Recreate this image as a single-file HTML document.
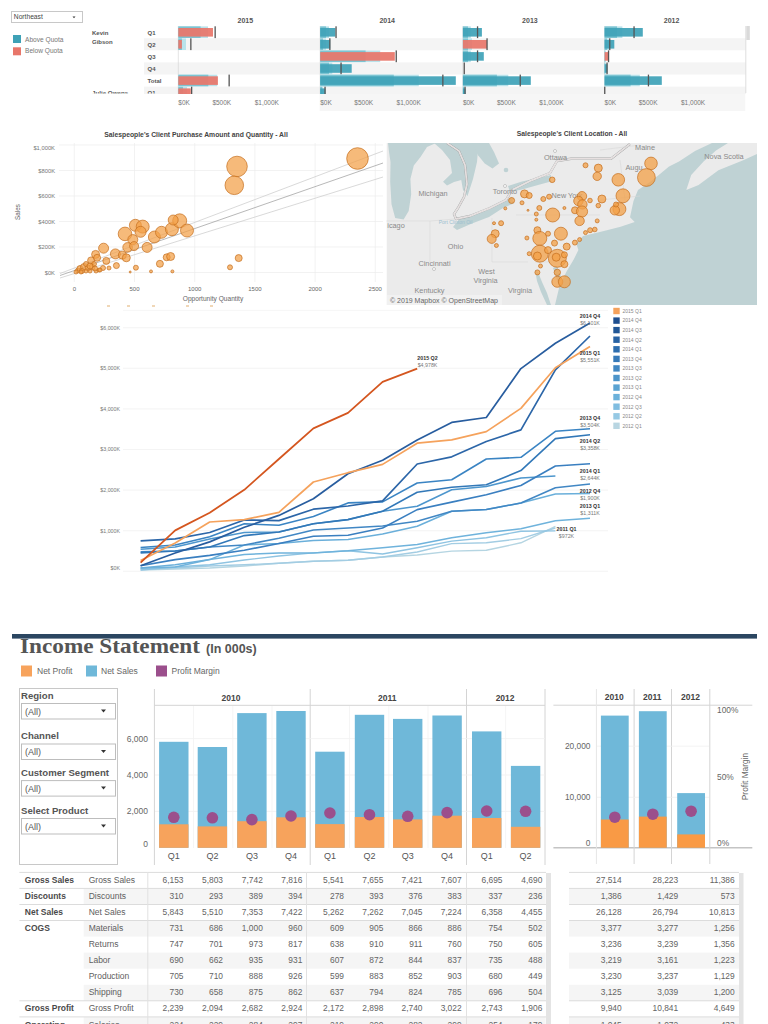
<!DOCTYPE html><html><head><meta charset="utf-8"><style>
html,body{margin:0;padding:0;background:#fff;width:768px;height:1024px;overflow:hidden;position:relative;font-family:"Liberation Sans", sans-serif;}
svg{position:absolute;left:0;top:0;overflow:visible;}
</style></head><body>
<svg width="768" height="115" viewBox="0 0 768 115"><rect x="11.5" y="11.5" width="71" height="11" fill="#fff" stroke="#c8c8c8" stroke-width="1"/><text x="13.8" y="19.4" font-size="6.7" fill="#444">Northeast</text><path d="M72.5 16.5 L75.5 16.5 L74 18.2 Z" fill="#333"/><rect x="13" y="35" width="8" height="8" fill="#3ea1b6"/><text x="25" y="42" font-size="6.6" fill="#777">Above Quota</text><rect x="13" y="47.3" width="8" height="8" fill="#e8766a"/><text x="25" y="53" font-size="6.6" fill="#777">Below Quota</text><rect x="144" y="38.2" width="602" height="12.1" fill="#f4f4f4"/><rect x="144" y="62.4" width="602" height="12.1" fill="#f4f4f4"/><rect x="144" y="86.6" width="602" height="7.4" fill="#f4f4f4"/><text x="92" y="34.8" font-size="6" font-weight="bold" fill="#555">Kevin</text><text x="92" y="44.2" font-size="6" font-weight="bold" fill="#555">Gibson</text><defs><clipPath id="rc2"><rect x="0" y="0" width="768" height="93.6"/></clipPath></defs><text x="92" y="95.2" font-size="6.2" font-weight="bold" fill="#555" clip-path="url(#rc2)">Julie Owens</text><text x="147.5" y="34.7" font-size="6" font-weight="bold" fill="#555" clip-path="url(#rc2)">Q1</text><text x="147.5" y="46.7" font-size="6" font-weight="bold" fill="#555" clip-path="url(#rc2)">Q2</text><text x="147.5" y="58.8" font-size="6" font-weight="bold" fill="#555" clip-path="url(#rc2)">Q3</text><text x="147.5" y="70.9" font-size="6" font-weight="bold" fill="#555" clip-path="url(#rc2)">Q4</text><text x="147.5" y="83.0" font-size="6" font-weight="bold" fill="#555" clip-path="url(#rc2)">Total</text><text x="147.5" y="95.1" font-size="6" font-weight="bold" fill="#555" clip-path="url(#rc2)">Q1</text><defs><clipPath id="rc"><rect x="0" y="0" width="768" height="94"/></clipPath></defs><g clip-path="url(#rc)"><line x1="178.3" y1="26" x2="178.3" y2="94" stroke="#d0d0d0" stroke-width="0.6"/><rect x="178.3" y="26.4" width="29.7" height="11.6" fill="#b9e2ea"/><rect x="178.3" y="26.4" width="22.3" height="11.6" fill="#7cc4d2"/><rect x="178.3" y="28.0" width="34.7" height="8.6" fill="#e8766a" fill-opacity="0.93"/><rect x="214.5" y="26.3" width="1.3" height="11.8" fill="#555"/><rect x="178.3" y="38.4" width="7.7" height="11.6" fill="#b9e2ea"/><rect x="178.3" y="38.4" width="3.6" height="11.6" fill="#7cc4d2"/><rect x="178.3" y="40.0" width="3.6" height="8.6" fill="#e8766a" fill-opacity="0.93"/><rect x="190.2" y="38.3" width="1.3" height="11.8" fill="#555"/><rect x="178.3" y="74.7" width="39.0" height="11.6" fill="#b9e2ea"/><rect x="178.3" y="74.7" width="30.0" height="11.6" fill="#7cc4d2"/><rect x="178.3" y="76.3" width="39.6" height="8.6" fill="#e8766a" fill-opacity="0.93"/><rect x="228.5" y="74.6" width="1.3" height="11.8" fill="#555"/><rect x="178.3" y="86.8" width="8.7" height="11.6" fill="#b9e2ea"/><rect x="178.3" y="86.8" width="4.7" height="11.6" fill="#7cc4d2"/><rect x="178.3" y="88.4" width="12.5" height="8.6" fill="#e8766a" fill-opacity="0.93"/><rect x="191.0" y="86.7" width="1.3" height="11.8" fill="#555"/><line x1="320.2" y1="26" x2="320.2" y2="94" stroke="#d0d0d0" stroke-width="0.6"/><rect x="320.2" y="26.4" width="8.8" height="11.6" fill="#b9e2ea"/><rect x="320.2" y="26.4" width="5.8" height="11.6" fill="#7cc4d2"/><rect x="320.2" y="28.0" width="15.2" height="8.6" fill="#3fa3b8" fill-opacity="0.93"/><rect x="335.4" y="26.3" width="1.3" height="11.8" fill="#555"/><rect x="320.2" y="38.4" width="5.8" height="11.6" fill="#b9e2ea"/><rect x="320.2" y="38.4" width="2.8" height="11.6" fill="#7cc4d2"/><rect x="320.2" y="40.0" width="10.0" height="8.6" fill="#3fa3b8" fill-opacity="0.93"/><rect x="329.2" y="38.3" width="1.3" height="11.8" fill="#555"/><rect x="320.2" y="50.5" width="60.0" height="11.6" fill="#b9e2ea"/><rect x="320.2" y="50.5" width="45.4" height="11.6" fill="#7cc4d2"/><rect x="320.2" y="52.1" width="74.6" height="8.6" fill="#e8766a" fill-opacity="0.93"/><rect x="395.6" y="50.4" width="1.3" height="11.8" fill="#555"/><rect x="320.2" y="62.6" width="12.1" height="11.6" fill="#b9e2ea"/><rect x="320.2" y="62.6" width="8.8" height="11.6" fill="#7cc4d2"/><rect x="320.2" y="64.2" width="31.5" height="8.6" fill="#3fa3b8" fill-opacity="0.93"/><rect x="340.4" y="62.5" width="1.3" height="11.8" fill="#555"/><rect x="320.2" y="74.7" width="98.6" height="11.6" fill="#b9e2ea"/><rect x="320.2" y="74.7" width="73.6" height="11.6" fill="#7cc4d2"/><rect x="320.2" y="76.3" width="135.6" height="8.6" fill="#3fa3b8" fill-opacity="0.93"/><rect x="442.2" y="74.6" width="1.3" height="11.8" fill="#555"/><rect x="320.2" y="86.8" width="2.8" height="11.6" fill="#b9e2ea"/><rect x="320.2" y="86.8" width="1.8" height="11.6" fill="#7cc4d2"/><rect x="320.2" y="88.4" width="5.2" height="8.6" fill="#3fa3b8" fill-opacity="0.93"/><rect x="324.4" y="86.7" width="1.3" height="11.8" fill="#555"/><line x1="462.9" y1="26" x2="462.9" y2="94" stroke="#d0d0d0" stroke-width="0.6"/><rect x="462.9" y="26.4" width="7.9" height="11.6" fill="#b9e2ea"/><rect x="462.9" y="26.4" width="5.1" height="11.6" fill="#7cc4d2"/><rect x="462.9" y="28.0" width="19.0" height="8.6" fill="#3fa3b8" fill-opacity="0.93"/><rect x="476.9" y="26.3" width="1.3" height="11.8" fill="#555"/><rect x="462.9" y="38.4" width="9.1" height="11.6" fill="#b9e2ea"/><rect x="462.9" y="38.4" width="5.1" height="11.6" fill="#7cc4d2"/><rect x="462.9" y="40.0" width="24.1" height="8.6" fill="#e8766a" fill-opacity="0.93"/><rect x="486.4" y="38.3" width="1.3" height="11.8" fill="#555"/><rect x="462.9" y="50.5" width="7.9" height="11.6" fill="#b9e2ea"/><rect x="462.9" y="50.5" width="5.1" height="11.6" fill="#7cc4d2"/><rect x="462.9" y="52.1" width="20.9" height="8.6" fill="#3fa3b8" fill-opacity="0.93"/><rect x="476.9" y="50.4" width="1.3" height="11.8" fill="#555"/><rect x="463.6" y="62.5" width="1.3" height="11.8" fill="#555"/><rect x="462.9" y="74.7" width="45.4" height="11.6" fill="#b9e2ea"/><rect x="462.9" y="74.7" width="34.0" height="11.6" fill="#7cc4d2"/><rect x="462.9" y="76.3" width="67.9" height="8.6" fill="#3fa3b8" fill-opacity="0.93"/><rect x="519.6" y="74.6" width="1.3" height="11.8" fill="#555"/><rect x="462.9" y="86.8" width="2.1" height="11.6" fill="#b9e2ea"/><rect x="462.9" y="86.8" width="1.1" height="11.6" fill="#7cc4d2"/><rect x="462.9" y="88.4" width="2.7" height="8.6" fill="#3fa3b8" fill-opacity="0.93"/><rect x="464.4" y="86.7" width="1.3" height="11.8" fill="#555"/><line x1="604.6" y1="26" x2="604.6" y2="94" stroke="#d0d0d0" stroke-width="0.6"/><rect x="604.6" y="26.4" width="17.8" height="11.6" fill="#b9e2ea"/><rect x="604.6" y="26.4" width="12.4" height="11.6" fill="#7cc4d2"/><rect x="604.6" y="28.0" width="38.2" height="8.6" fill="#3fa3b8" fill-opacity="0.93"/><rect x="633.4" y="26.3" width="1.3" height="11.8" fill="#555"/><rect x="604.6" y="38.4" width="4.4" height="11.6" fill="#b9e2ea"/><rect x="604.6" y="38.4" width="2.4" height="11.6" fill="#7cc4d2"/><rect x="604.6" y="40.0" width="9.7" height="8.6" fill="#3fa3b8" fill-opacity="0.93"/><rect x="609.1" y="38.3" width="1.3" height="11.8" fill="#555"/><rect x="604.6" y="50.5" width="1.4" height="11.6" fill="#b9e2ea"/><rect x="604.6" y="50.5" width="0.4" height="11.6" fill="#7cc4d2"/><rect x="604.6" y="52.1" width="3.4" height="8.6" fill="#e8766a" fill-opacity="0.93"/><rect x="607.9" y="50.4" width="1.3" height="11.8" fill="#555"/><rect x="604.6" y="62.6" width="1.4" height="11.6" fill="#b9e2ea"/><rect x="604.6" y="62.6" width="0.4" height="11.6" fill="#7cc4d2"/><rect x="604.6" y="64.2" width="2.8" height="8.6" fill="#3fa3b8" fill-opacity="0.93"/><rect x="606.4" y="62.5" width="1.3" height="11.8" fill="#555"/><rect x="604.6" y="74.7" width="35.2" height="11.6" fill="#b9e2ea"/><rect x="604.6" y="74.7" width="26.0" height="11.6" fill="#7cc4d2"/><rect x="604.6" y="76.3" width="57.2" height="8.6" fill="#3fa3b8" fill-opacity="0.93"/><rect x="647.8" y="74.6" width="1.3" height="11.8" fill="#555"/><rect x="604.1" y="86.7" width="1.3" height="11.8" fill="#555"/></g><rect x="319.7" y="94" width="425.5" height="17" fill="#f6f6f6"/><text x="245.3" y="22.5" font-size="7" font-weight="bold" fill="#555" text-anchor="middle">2015</text><text x="178.3" y="104.8" font-size="6.5" fill="#777">$0K</text><text x="221.8" y="104.8" font-size="6.5" fill="#777" text-anchor="middle">$500K</text><text x="266.8" y="104.8" font-size="6.5" fill="#777" text-anchor="middle">$1,000K</text><text x="387.2" y="22.5" font-size="7" font-weight="bold" fill="#555" text-anchor="middle">2014</text><text x="320.2" y="104.8" font-size="6.5" fill="#777">$0K</text><text x="363.7" y="104.8" font-size="6.5" fill="#777" text-anchor="middle">$500K</text><text x="408.7" y="104.8" font-size="6.5" fill="#777" text-anchor="middle">$1,000K</text><text x="529.9" y="22.5" font-size="7" font-weight="bold" fill="#555" text-anchor="middle">2013</text><text x="462.9" y="104.8" font-size="6.5" fill="#777">$0K</text><text x="506.4" y="104.8" font-size="6.5" fill="#777" text-anchor="middle">$500K</text><text x="551.4" y="104.8" font-size="6.5" fill="#777" text-anchor="middle">$1,000K</text><text x="671.6" y="22.5" font-size="7" font-weight="bold" fill="#555" text-anchor="middle">2012</text><text x="604.6" y="104.8" font-size="6.5" fill="#777">$0K</text><text x="648.1" y="104.8" font-size="6.5" fill="#777" text-anchor="middle">$500K</text><text x="693.1" y="104.8" font-size="6.5" fill="#777" text-anchor="middle">$1,000K</text><rect x="745.3" y="26" width="1" height="67" fill="#dedede"/><rect x="746.3" y="26" width="3.5" height="14" fill="#dadada"/></svg>
<svg width="768" height="320" viewBox="0 0 768 320"><text x="196" y="136.8" font-size="6.8" font-weight="bold" fill="#444" text-anchor="middle">Salespeople's Client Purchase Amount and Quantity - All</text><line x1="59" y1="272.5" x2="383" y2="272.5" stroke="#ececec" stroke-width="0.7"/><text x="55" y="274.7" font-size="5.8" fill="#777" text-anchor="end">$0K</text><line x1="59" y1="247.0" x2="383" y2="247.0" stroke="#ececec" stroke-width="0.7"/><text x="55" y="249.2" font-size="5.8" fill="#777" text-anchor="end">$200K</text><line x1="59" y1="221.5" x2="383" y2="221.5" stroke="#ececec" stroke-width="0.7"/><text x="55" y="223.7" font-size="5.8" fill="#777" text-anchor="end">$400K</text><line x1="59" y1="196.0" x2="383" y2="196.0" stroke="#ececec" stroke-width="0.7"/><text x="55" y="198.2" font-size="5.8" fill="#777" text-anchor="end">$600K</text><line x1="59" y1="170.5" x2="383" y2="170.5" stroke="#ececec" stroke-width="0.7"/><text x="55" y="172.7" font-size="5.8" fill="#777" text-anchor="end">$800K</text><line x1="59" y1="145.0" x2="383" y2="145.0" stroke="#ececec" stroke-width="0.7"/><text x="55" y="150.0" font-size="5.8" fill="#777" text-anchor="end">$1,000K</text><line x1="74.3" y1="143" x2="74.3" y2="282" stroke="#ececec" stroke-width="0.7"/><text x="74.3" y="290.5" font-size="6" fill="#666" text-anchor="middle">0</text><line x1="134.5" y1="143" x2="134.5" y2="282" stroke="#ececec" stroke-width="0.7"/><text x="134.5" y="290.5" font-size="6" fill="#666" text-anchor="middle">500</text><line x1="194.7" y1="143" x2="194.7" y2="282" stroke="#ececec" stroke-width="0.7"/><text x="194.7" y="290.5" font-size="6" fill="#666" text-anchor="middle">1000</text><line x1="254.9" y1="143" x2="254.9" y2="282" stroke="#ececec" stroke-width="0.7"/><text x="254.9" y="290.5" font-size="6" fill="#666" text-anchor="middle">1500</text><line x1="315.1" y1="143" x2="315.1" y2="282" stroke="#ececec" stroke-width="0.7"/><text x="315.1" y="290.5" font-size="6" fill="#666" text-anchor="middle">2000</text><line x1="375.3" y1="143" x2="375.3" y2="282" stroke="#ececec" stroke-width="0.7"/><text x="375.3" y="290.5" font-size="6" fill="#666" text-anchor="middle">2500</text><text x="213" y="301" font-size="6.6" fill="#666" text-anchor="middle">Opportunity Quantity</text><text transform="translate(20,212) rotate(-90)" font-size="6.3" fill="#666" text-anchor="middle">Sales</text><line x1="60" y1="273.5" x2="383" y2="151" stroke="#c8c8c8" stroke-width="0.7"/><line x1="60" y1="275.5" x2="383" y2="163" stroke="#9a9a9a" stroke-width="0.7"/><line x1="60" y1="278" x2="383" y2="177" stroke="#c8c8c8" stroke-width="0.7"/><circle cx="237.0" cy="166.5" r="10.3" fill="#f3a047" fill-opacity="0.72" stroke="#c46f1e" stroke-width="0.7"/><circle cx="234.3" cy="185.3" r="9.3" fill="#f3a047" fill-opacity="0.72" stroke="#c46f1e" stroke-width="0.7"/><circle cx="357.5" cy="158.5" r="10.8" fill="#f3a047" fill-opacity="0.72" stroke="#c46f1e" stroke-width="0.7"/><circle cx="238.7" cy="258.1" r="3.5" fill="#f3a047" fill-opacity="0.72" stroke="#c46f1e" stroke-width="0.7"/><circle cx="230.0" cy="267.3" r="2.5" fill="#f3a047" fill-opacity="0.72" stroke="#c46f1e" stroke-width="0.7"/><circle cx="135.4" cy="225.3" r="6.0" fill="#f3a047" fill-opacity="0.72" stroke="#c46f1e" stroke-width="0.7"/><circle cx="142.7" cy="226.6" r="6.5" fill="#f3a047" fill-opacity="0.72" stroke="#c46f1e" stroke-width="0.7"/><circle cx="140.6" cy="231.8" r="5.5" fill="#f3a047" fill-opacity="0.72" stroke="#c46f1e" stroke-width="0.7"/><circle cx="125.0" cy="233.9" r="6.8" fill="#f3a047" fill-opacity="0.72" stroke="#c46f1e" stroke-width="0.7"/><circle cx="132.8" cy="239.6" r="5.0" fill="#f3a047" fill-opacity="0.72" stroke="#c46f1e" stroke-width="0.7"/><circle cx="127.6" cy="247.4" r="4.8" fill="#f3a047" fill-opacity="0.72" stroke="#c46f1e" stroke-width="0.7"/><circle cx="134.1" cy="246.1" r="4.5" fill="#f3a047" fill-opacity="0.72" stroke="#c46f1e" stroke-width="0.7"/><circle cx="147.1" cy="247.4" r="5.0" fill="#f3a047" fill-opacity="0.72" stroke="#c46f1e" stroke-width="0.7"/><circle cx="154.4" cy="237.0" r="6.0" fill="#f3a047" fill-opacity="0.72" stroke="#c46f1e" stroke-width="0.7"/><circle cx="161.5" cy="232.3" r="6.0" fill="#f3a047" fill-opacity="0.72" stroke="#c46f1e" stroke-width="0.7"/><circle cx="171.9" cy="229.2" r="6.5" fill="#f3a047" fill-opacity="0.72" stroke="#c46f1e" stroke-width="0.7"/><circle cx="179.7" cy="220.8" r="7.0" fill="#f3a047" fill-opacity="0.72" stroke="#c46f1e" stroke-width="0.7"/><circle cx="173.2" cy="220.0" r="5.0" fill="#f3a047" fill-opacity="0.72" stroke="#c46f1e" stroke-width="0.7"/><circle cx="187.0" cy="230.5" r="6.5" fill="#f3a047" fill-opacity="0.72" stroke="#c46f1e" stroke-width="0.7"/><circle cx="103.6" cy="248.2" r="5.0" fill="#f3a047" fill-opacity="0.72" stroke="#c46f1e" stroke-width="0.7"/><circle cx="95.6" cy="254.4" r="4.0" fill="#f3a047" fill-opacity="0.72" stroke="#c46f1e" stroke-width="0.7"/><circle cx="91.1" cy="260.4" r="3.5" fill="#f3a047" fill-opacity="0.72" stroke="#c46f1e" stroke-width="0.7"/><circle cx="97.1" cy="257.8" r="3.5" fill="#f3a047" fill-opacity="0.72" stroke="#c46f1e" stroke-width="0.7"/><circle cx="106.3" cy="260.9" r="3.5" fill="#f3a047" fill-opacity="0.72" stroke="#c46f1e" stroke-width="0.7"/><circle cx="115.4" cy="253.9" r="5.0" fill="#f3a047" fill-opacity="0.72" stroke="#c46f1e" stroke-width="0.7"/><circle cx="122.4" cy="255.2" r="4.0" fill="#f3a047" fill-opacity="0.72" stroke="#c46f1e" stroke-width="0.7"/><circle cx="126.3" cy="257.8" r="4.0" fill="#f3a047" fill-opacity="0.72" stroke="#c46f1e" stroke-width="0.7"/><circle cx="116.4" cy="265.6" r="3.0" fill="#f3a047" fill-opacity="0.72" stroke="#c46f1e" stroke-width="0.7"/><circle cx="135.9" cy="267.7" r="2.5" fill="#f3a047" fill-opacity="0.72" stroke="#c46f1e" stroke-width="0.7"/><circle cx="159.9" cy="263.8" r="3.5" fill="#f3a047" fill-opacity="0.72" stroke="#c46f1e" stroke-width="0.7"/><circle cx="166.7" cy="257.3" r="3.5" fill="#f3a047" fill-opacity="0.72" stroke="#c46f1e" stroke-width="0.7"/><circle cx="170.6" cy="256.5" r="4.0" fill="#f3a047" fill-opacity="0.72" stroke="#c46f1e" stroke-width="0.7"/><circle cx="151.0" cy="271.4" r="1.5" fill="#f3a047" fill-opacity="0.72" stroke="#c46f1e" stroke-width="0.7"/><circle cx="130.2" cy="272.0" r="1.0" fill="#f3a047" fill-opacity="0.72" stroke="#c46f1e" stroke-width="0.7"/><circle cx="172.4" cy="271.4" r="1.5" fill="#f3a047" fill-opacity="0.72" stroke="#c46f1e" stroke-width="0.7"/><circle cx="78.0" cy="270.5" r="2.5" fill="#f3a047" fill-opacity="0.72" stroke="#c46f1e" stroke-width="0.7"/><circle cx="80.0" cy="268.5" r="3.0" fill="#f3a047" fill-opacity="0.72" stroke="#c46f1e" stroke-width="0.7"/><circle cx="84.0" cy="267.0" r="3.5" fill="#f3a047" fill-opacity="0.72" stroke="#c46f1e" stroke-width="0.7"/><circle cx="88.0" cy="268.0" r="3.0" fill="#f3a047" fill-opacity="0.72" stroke="#c46f1e" stroke-width="0.7"/><circle cx="92.0" cy="267.0" r="3.0" fill="#f3a047" fill-opacity="0.72" stroke="#c46f1e" stroke-width="0.7"/><circle cx="94.0" cy="264.0" r="2.5" fill="#f3a047" fill-opacity="0.72" stroke="#c46f1e" stroke-width="0.7"/><circle cx="99.0" cy="270.0" r="2.0" fill="#f3a047" fill-opacity="0.72" stroke="#c46f1e" stroke-width="0.7"/><circle cx="103.0" cy="268.0" r="2.5" fill="#f3a047" fill-opacity="0.72" stroke="#c46f1e" stroke-width="0.7"/><circle cx="76.0" cy="272.0" r="2.0" fill="#f3a047" fill-opacity="0.72" stroke="#c46f1e" stroke-width="0.7"/><circle cx="82.0" cy="271.0" r="2.5" fill="#f3a047" fill-opacity="0.72" stroke="#c46f1e" stroke-width="0.7"/><circle cx="86.0" cy="271.0" r="2.0" fill="#f3a047" fill-opacity="0.72" stroke="#c46f1e" stroke-width="0.7"/><circle cx="90.0" cy="271.0" r="2.0" fill="#f3a047" fill-opacity="0.72" stroke="#c46f1e" stroke-width="0.7"/><circle cx="96.0" cy="271.0" r="2.0" fill="#f3a047" fill-opacity="0.72" stroke="#c46f1e" stroke-width="0.7"/><circle cx="100.0" cy="270.0" r="2.0" fill="#f3a047" fill-opacity="0.72" stroke="#c46f1e" stroke-width="0.7"/><circle cx="86.0" cy="264.0" r="2.5" fill="#f3a047" fill-opacity="0.72" stroke="#c46f1e" stroke-width="0.7"/><circle cx="90.0" cy="266.0" r="3.0" fill="#f3a047" fill-opacity="0.72" stroke="#c46f1e" stroke-width="0.7"/><circle cx="95.0" cy="268.5" r="2.5" fill="#f3a047" fill-opacity="0.72" stroke="#c46f1e" stroke-width="0.7"/><circle cx="81.0" cy="272.0" r="2.0" fill="#f3a047" fill-opacity="0.72" stroke="#c46f1e" stroke-width="0.7"/><circle cx="109.0" cy="268.0" r="2.0" fill="#f3a047" fill-opacity="0.72" stroke="#c46f1e" stroke-width="0.7"/><rect x="107" y="305.5" width="3" height="1" fill="#e2b070"/><rect x="127" y="305.5" width="3" height="1" fill="#e2b070"/><rect x="152" y="305.5" width="3" height="1" fill="#e2b070"/><rect x="186" y="305.5" width="3" height="1" fill="#e2b070"/><rect x="210" y="305.5" width="3" height="1" fill="#e2b070"/><text x="572" y="136.3" font-size="6.8" font-weight="bold" fill="#444" text-anchor="middle">Salespeople's Client Location - All</text><defs><clipPath id="mapc"><rect x="386.5" y="143.0" width="370.5" height="162.0"/></clipPath></defs><g clip-path="url(#mapc)"><rect x="386.5" y="143.0" width="370.5" height="162.0" fill="#ebebeb"/><path d="M555 305 L559.7 285.3 L566.7 271.2 L573.7 259.5 L578.4 250.1 L576.1 243.1 L583.1 236.1 L601.9 231.4 L620.6 226.7 L634.7 222 L630 217.3 L633.5 201 L638 190 L650 182 L660 174 L669 166.5 L679 161.5 L695 151 L712 143 L728 143 L716 150.4 L703.6 161.5 L691.2 175 L686.3 190 L698.6 185 L718.4 170.2 L743.2 160.3 L757 154 L757 305 Z" fill="#bfd2d4"/><path d="M388 143 L436 143 L427 147 L420.5 157 L413.8 165.4 L410.4 179 L411.2 194.2 L408.7 211 L403.6 219.6 L395.2 217.9 L391.5 204.3 L390.2 182.3 L390.5 162 L389 152 Z" fill="#bfd2d4"/><path d="M434 143 L474 143 L478 150 L477 162 L473 179 L467.5 196 L463 190 L461.25 180 L454 182 L447 185.6 L443 181.7 L452 173 L450 160 L442 150 Z" fill="#bfd2d4"/><path d="M472 143 L489 143 L494 152 L499 163.4 L492.5 168.6 L484.7 163.4 L478.2 155.6 Z" fill="#bfd2d4"/><circle cx="506" cy="170" r="2.3" fill="#bfd2d4"/><path d="M453 227 L459 219.6 L475 213 L489 209.7 L503 201.5 L512 197 L513.5 203.5 L503 208 L489 217 L472 223.5 L457 230 Z" fill="#bfd2d4"/><path d="M508 186 L522 181.5 L540 177.5 L551 175 L551 181.5 L538 185 L522 189.5 L510 192 Z" fill="#bfd2d4"/><path d="M535 270 L538 272 L542 282 L547 293 L551 305 L547 305 L541 292 L537 281 Z" fill="#bfd2d4"/><path d="M553 268 L557 266 L562 279 L558 283 Z" fill="#bfd2d4"/><path d="M447 143 L459 151 L465 165 L467 184 L464 197 L458 208 L454 214 L456 219 L470 216 L490 208 L506 200 L512 190 L530 181 L550 173 L557 161 L571 158.7 L611 158.7 L630 144" fill="none" stroke="#a8a8a8" stroke-width="2.4" stroke-linejoin="round"/><path d="M447 143 L459 151 L465 165 L467 184 L464 197 L458 208 L454 214 L456 219 L470 216 L490 208 L506 200 L512 190 L530 181 L550 173 L557 161 L571 158.7 L611 158.7 L630 144" fill="none" stroke="#fbfbfb" stroke-width="1.5" stroke-linejoin="round"/><path d="M447 143 L459 151 L465 165 L467 184 L464 197 L458 208 L454 214 L456 219 L470 216 L490 208 L506 200 L512 190 L530 181 L550 173 L557 161 L571 158.7 L611 158.7 L630 144" fill="none" stroke="#b59a9a" stroke-width="0.35"/><path d="M386 221 L430 221 L430 262 M492 218 L492 262 L528 262 M430 221 L455 219 M516 215 L600 215 M535 262 L556 262 M600 150 L640 145 M620 160 L625 200 M600 200 L640 196" fill="none" stroke="#d8d8d8" stroke-width="0.6"/><circle cx="505" cy="186" r="1.5" fill="#fff" stroke="#999" stroke-width="0.5"/><circle cx="555" cy="151" r="1.5" fill="#fff" stroke="#999" stroke-width="0.5"/><circle cx="434" cy="269" r="1.5" fill="#fff" stroke="#999" stroke-width="0.5"/><text x="433.0" y="195.5" font-size="7.3" fill="#8a8a8a" text-anchor="middle">Michigan</text><text x="455.5" y="248.5" font-size="7.3" fill="#8a8a8a" text-anchor="middle">Ohio</text><text x="434.5" y="266.0" font-size="7.3" fill="#8a8a8a" text-anchor="middle">Cincinnati</text><text x="486.5" y="274.0" font-size="7.3" fill="#8a8a8a" text-anchor="middle">West</text><text x="485.5" y="282.5" font-size="7.3" fill="#8a8a8a" text-anchor="middle">Virginia</text><text x="429.5" y="292.5" font-size="7.3" fill="#8a8a8a" text-anchor="middle">Kentucky</text><text x="520.0" y="292.5" font-size="7.3" fill="#8a8a8a" text-anchor="middle">Virginia</text><text x="505.0" y="193.5" font-size="7.3" fill="#8a8a8a" text-anchor="middle">Toronto</text><text x="555.5" y="159.5" font-size="7.3" fill="#8a8a8a" text-anchor="middle">Ottawa</text><text x="396.0" y="227.5" font-size="7.3" fill="#8a8a8a" text-anchor="middle">icago</text><text x="567.0" y="198.0" font-size="7.3" fill="#8a8a8a" text-anchor="middle">New York</text><text x="645.0" y="150.0" font-size="7.3" fill="#8a8a8a" text-anchor="middle">Maine</text><text x="634.0" y="170.0" font-size="7.3" fill="#8a8a8a" text-anchor="middle">Augu</text><text x="724.0" y="158.5" font-size="7.3" fill="#8a8a8a" text-anchor="middle">Nova Scotia</text><text x="455.5" y="223.5" font-size="5" fill="#9cc0d0" text-anchor="middle">Port Clinton Oil</text><circle cx="494.0" cy="223.2" r="1.5" fill="#f3a047" fill-opacity="0.75" stroke="#c46f1e" stroke-width="0.7"/><circle cx="501.1" cy="223.2" r="2.5" fill="#f3a047" fill-opacity="0.75" stroke="#c46f1e" stroke-width="0.7"/><circle cx="495.2" cy="233.7" r="4.0" fill="#f3a047" fill-opacity="0.75" stroke="#c46f1e" stroke-width="0.7"/><circle cx="491.7" cy="238.9" r="4.5" fill="#f3a047" fill-opacity="0.75" stroke="#c46f1e" stroke-width="0.7"/><circle cx="496.4" cy="245.5" r="2.0" fill="#f3a047" fill-opacity="0.75" stroke="#c46f1e" stroke-width="0.7"/><circle cx="651.0" cy="163.4" r="6.3" fill="#f3a047" fill-opacity="0.75" stroke="#c46f1e" stroke-width="0.7"/><circle cx="646.4" cy="177.5" r="8.9" fill="#f3a047" fill-opacity="0.75" stroke="#c46f1e" stroke-width="0.7"/><circle cx="618.3" cy="179.8" r="6.3" fill="#f3a047" fill-opacity="0.75" stroke="#c46f1e" stroke-width="0.7"/><circle cx="623.0" cy="195.8" r="7.0" fill="#f3a047" fill-opacity="0.75" stroke="#c46f1e" stroke-width="0.7"/><circle cx="619.4" cy="209.1" r="6.5" fill="#f3a047" fill-opacity="0.75" stroke="#c46f1e" stroke-width="0.7"/><circle cx="614.8" cy="210.3" r="4.7" fill="#f3a047" fill-opacity="0.75" stroke="#c46f1e" stroke-width="0.7"/><circle cx="616.0" cy="204.5" r="2.5" fill="#f3a047" fill-opacity="0.75" stroke="#c46f1e" stroke-width="0.7"/><circle cx="601.9" cy="199.0" r="4.0" fill="#f3a047" fill-opacity="0.75" stroke="#c46f1e" stroke-width="0.7"/><circle cx="598.3" cy="168.1" r="4.0" fill="#f3a047" fill-opacity="0.75" stroke="#c46f1e" stroke-width="0.7"/><circle cx="597.2" cy="176.3" r="4.2" fill="#f3a047" fill-opacity="0.75" stroke="#c46f1e" stroke-width="0.7"/><circle cx="585.5" cy="165.3" r="2.5" fill="#f3a047" fill-opacity="0.75" stroke="#c46f1e" stroke-width="0.7"/><circle cx="582.0" cy="196.2" r="4.7" fill="#f3a047" fill-opacity="0.75" stroke="#c46f1e" stroke-width="0.7"/><circle cx="578.4" cy="201.0" r="4.7" fill="#f3a047" fill-opacity="0.75" stroke="#c46f1e" stroke-width="0.7"/><circle cx="582.4" cy="204.4" r="4.7" fill="#f3a047" fill-opacity="0.75" stroke="#c46f1e" stroke-width="0.7"/><circle cx="575.0" cy="210.3" r="3.5" fill="#f3a047" fill-opacity="0.75" stroke="#c46f1e" stroke-width="0.7"/><circle cx="582.0" cy="211.5" r="5.6" fill="#f3a047" fill-opacity="0.75" stroke="#c46f1e" stroke-width="0.7"/><circle cx="579.6" cy="220.9" r="4.7" fill="#f3a047" fill-opacity="0.75" stroke="#c46f1e" stroke-width="0.7"/><circle cx="590.0" cy="200.5" r="2.3" fill="#f3a047" fill-opacity="0.75" stroke="#c46f1e" stroke-width="0.7"/><circle cx="598.3" cy="205.6" r="2.3" fill="#f3a047" fill-opacity="0.75" stroke="#c46f1e" stroke-width="0.7"/><circle cx="597.2" cy="220.9" r="2.0" fill="#f3a047" fill-opacity="0.75" stroke="#c46f1e" stroke-width="0.7"/><circle cx="552.7" cy="215.0" r="7.0" fill="#f3a047" fill-opacity="0.75" stroke="#c46f1e" stroke-width="0.7"/><circle cx="552.2" cy="179.8" r="2.8" fill="#f3a047" fill-opacity="0.75" stroke="#c46f1e" stroke-width="0.7"/><circle cx="524.5" cy="193.9" r="4.0" fill="#f3a047" fill-opacity="0.75" stroke="#c46f1e" stroke-width="0.7"/><circle cx="529.2" cy="195.5" r="3.0" fill="#f3a047" fill-opacity="0.75" stroke="#c46f1e" stroke-width="0.7"/><circle cx="511.6" cy="200.5" r="3.0" fill="#f3a047" fill-opacity="0.75" stroke="#c46f1e" stroke-width="0.7"/><circle cx="522.0" cy="202.8" r="2.0" fill="#f3a047" fill-opacity="0.75" stroke="#c46f1e" stroke-width="0.7"/><circle cx="543.3" cy="199.0" r="2.5" fill="#f3a047" fill-opacity="0.75" stroke="#c46f1e" stroke-width="0.7"/><circle cx="549.1" cy="196.7" r="2.5" fill="#f3a047" fill-opacity="0.75" stroke="#c46f1e" stroke-width="0.7"/><circle cx="539.3" cy="208.0" r="2.5" fill="#f3a047" fill-opacity="0.75" stroke="#c46f1e" stroke-width="0.7"/><circle cx="536.3" cy="214.0" r="2.0" fill="#f3a047" fill-opacity="0.75" stroke="#c46f1e" stroke-width="0.7"/><circle cx="536.3" cy="219.7" r="1.5" fill="#f3a047" fill-opacity="0.75" stroke="#c46f1e" stroke-width="0.7"/><circle cx="505.3" cy="208.4" r="1.5" fill="#f3a047" fill-opacity="0.75" stroke="#c46f1e" stroke-width="0.7"/><circle cx="528.0" cy="210.3" r="1.0" fill="#f3a047" fill-opacity="0.75" stroke="#c46f1e" stroke-width="0.7"/><circle cx="564.4" cy="208.0" r="1.5" fill="#f3a047" fill-opacity="0.75" stroke="#c46f1e" stroke-width="0.7"/><circle cx="537.4" cy="230.2" r="3.5" fill="#f3a047" fill-opacity="0.75" stroke="#c46f1e" stroke-width="0.7"/><circle cx="539.8" cy="238.4" r="7.0" fill="#f3a047" fill-opacity="0.75" stroke="#c46f1e" stroke-width="0.7"/><circle cx="560.9" cy="233.7" r="6.5" fill="#f3a047" fill-opacity="0.75" stroke="#c46f1e" stroke-width="0.7"/><circle cx="548.0" cy="233.7" r="2.5" fill="#f3a047" fill-opacity="0.75" stroke="#c46f1e" stroke-width="0.7"/><circle cx="526.9" cy="238.0" r="2.0" fill="#f3a047" fill-opacity="0.75" stroke="#c46f1e" stroke-width="0.7"/><circle cx="554.5" cy="243.1" r="3.0" fill="#f3a047" fill-opacity="0.75" stroke="#c46f1e" stroke-width="0.7"/><circle cx="566.7" cy="246.6" r="3.5" fill="#f3a047" fill-opacity="0.75" stroke="#c46f1e" stroke-width="0.7"/><circle cx="574.9" cy="242.6" r="2.5" fill="#f3a047" fill-opacity="0.75" stroke="#c46f1e" stroke-width="0.7"/><circle cx="579.6" cy="239.6" r="2.0" fill="#f3a047" fill-opacity="0.75" stroke="#c46f1e" stroke-width="0.7"/><circle cx="590.1" cy="230.2" r="2.5" fill="#f3a047" fill-opacity="0.75" stroke="#c46f1e" stroke-width="0.7"/><circle cx="594.8" cy="229.5" r="2.3" fill="#f3a047" fill-opacity="0.75" stroke="#c46f1e" stroke-width="0.7"/><circle cx="585.5" cy="232.6" r="2.0" fill="#f3a047" fill-opacity="0.75" stroke="#c46f1e" stroke-width="0.7"/><circle cx="539.8" cy="253.7" r="8.5" fill="#f3a047" fill-opacity="0.75" stroke="#c46f1e" stroke-width="0.7"/><circle cx="537.4" cy="256.0" r="4.0" fill="#f3a047" fill-opacity="0.75" stroke="#c46f1e" stroke-width="0.7"/><circle cx="548.0" cy="250.1" r="3.5" fill="#f3a047" fill-opacity="0.75" stroke="#c46f1e" stroke-width="0.7"/><circle cx="557.3" cy="258.3" r="9.0" fill="#f3a047" fill-opacity="0.75" stroke="#c46f1e" stroke-width="0.7"/><circle cx="556.2" cy="257.2" r="4.0" fill="#f3a047" fill-opacity="0.75" stroke="#c46f1e" stroke-width="0.7"/><circle cx="564.4" cy="254.8" r="3.0" fill="#f3a047" fill-opacity="0.75" stroke="#c46f1e" stroke-width="0.7"/><circle cx="564.4" cy="264.2" r="3.5" fill="#f3a047" fill-opacity="0.75" stroke="#c46f1e" stroke-width="0.7"/><circle cx="529.2" cy="253.7" r="2.0" fill="#f3a047" fill-opacity="0.75" stroke="#c46f1e" stroke-width="0.7"/><circle cx="537.4" cy="272.4" r="2.5" fill="#f3a047" fill-opacity="0.75" stroke="#c46f1e" stroke-width="0.7"/><circle cx="557.3" cy="272.4" r="3.2" fill="#f3a047" fill-opacity="0.75" stroke="#c46f1e" stroke-width="0.7"/><circle cx="557.3" cy="281.8" r="5.5" fill="#f3a047" fill-opacity="0.75" stroke="#c46f1e" stroke-width="0.7"/><circle cx="564.4" cy="281.8" r="6.0" fill="#f3a047" fill-opacity="0.75" stroke="#c46f1e" stroke-width="0.7"/><circle cx="540.5" cy="266.0" r="2.0" fill="#f3a047" fill-opacity="0.75" stroke="#c46f1e" stroke-width="0.7"/><rect x="387" y="295" width="115" height="10" fill="#f2f2f2" fill-opacity="0.8"/><text x="390" y="302.6" font-size="7" fill="#666">© 2019 Mapbox © OpenStreetMap</text></g></svg>
<svg width="768" height="600" viewBox="0 0 768 600"><line x1="123" y1="571.3" x2="608" y2="571.3" stroke="#efefef" stroke-width="0.7"/><text x="120" y="569.8" font-size="5.3" fill="#777" text-anchor="end">$0K</text><line x1="123" y1="530.7" x2="608" y2="530.7" stroke="#efefef" stroke-width="0.7"/><text x="120" y="532.5" font-size="5.3" fill="#777" text-anchor="end">$1,000K</text><line x1="123" y1="490.1" x2="608" y2="490.1" stroke="#efefef" stroke-width="0.7"/><text x="120" y="491.9" font-size="5.3" fill="#777" text-anchor="end">$2,000K</text><line x1="123" y1="449.5" x2="608" y2="449.5" stroke="#efefef" stroke-width="0.7"/><text x="120" y="451.3" font-size="5.3" fill="#777" text-anchor="end">$3,000K</text><line x1="123" y1="408.9" x2="608" y2="408.9" stroke="#efefef" stroke-width="0.7"/><text x="120" y="410.7" font-size="5.3" fill="#777" text-anchor="end">$4,000K</text><line x1="123" y1="368.3" x2="608" y2="368.3" stroke="#efefef" stroke-width="0.7"/><text x="120" y="370.1" font-size="5.3" fill="#777" text-anchor="end">$5,000K</text><line x1="123" y1="327.7" x2="608" y2="327.7" stroke="#efefef" stroke-width="0.7"/><text x="120" y="329.5" font-size="5.3" fill="#777" text-anchor="end">$6,000K</text><line x1="123" y1="310.4" x2="608" y2="310.4" stroke="#f2f2f2" stroke-width="0.7"/><polyline points="140.6,570.0 175.2,569.0 209.7,568.0 244.3,566.0 278.9,563.3 313.4,561.2 348.0,560.2 382.6,557.0 417.2,555.0 451.7,551.1 486.3,550.3 520.9,542.8 555.4,526.3" fill="none" stroke="#b5d5e2" stroke-width="1.4" stroke-linejoin="round"/><polyline points="140.6,569.0 175.2,568.0 209.7,566.0 244.3,564.8 278.9,563.3 313.4,561.2 348.0,560.2 382.6,557.0 417.2,552.0 451.7,543.6 486.3,542.8 520.9,538.6 555.4,528.0" fill="none" stroke="#a3cde3" stroke-width="1.4" stroke-linejoin="round"/><polyline points="140.6,570.0 175.2,567.0 209.7,564.8 244.3,560.0 278.9,556.0 313.4,552.9 348.0,550.8 382.6,554.0 417.2,547.8 451.7,541.1 486.3,537.8 520.9,531.2 555.4,530.9" fill="none" stroke="#8fc4e2" stroke-width="1.4" stroke-linejoin="round"/><polyline points="140.6,567.9 175.2,566.9 209.7,559.6 244.3,554.4 278.9,552.9 313.4,552.9 348.0,550.8 382.6,547.7 417.2,544.5 451.7,537.8 486.3,532.8 520.9,528.7 555.4,520.7 590.0,518.2" fill="none" stroke="#6fb3dc" stroke-width="1.5" stroke-linejoin="round"/><polyline points="140.6,567.9 175.2,564.8 209.7,559.6 244.3,545.0 278.9,543.5 313.4,540.4 348.0,539.4 382.6,534.0 417.2,526.2 451.7,511.2 486.3,509.6 520.9,503.0 555.4,494.0 590.0,493.6" fill="none" stroke="#6aafda" stroke-width="1.5" stroke-linejoin="round"/><polyline points="140.6,549.2 175.2,547.0 209.7,539.0 244.3,532.5 278.9,532.0 313.4,523.8 348.0,519.6 382.6,511.2 417.2,506.3 451.7,489.7 486.3,486.4 520.9,478.0 555.4,475.9" fill="none" stroke="#4d96cd" stroke-width="1.5" stroke-linejoin="round"/><polyline points="140.6,551.7 175.2,551.0 209.7,547.0 244.3,545.0 278.9,538.3 313.4,530.0 348.0,528.0 382.6,526.0 417.2,521.2 451.7,511.2 486.3,509.6 520.9,503.0 555.4,487.7 590.0,484.0" fill="none" stroke="#4187c4" stroke-width="1.5" stroke-linejoin="round"/><polyline points="140.6,565.8 175.2,559.6 209.7,555.4 244.3,550.2 278.9,543.5 313.4,536.2 348.0,535.2 382.6,528.0 417.2,509.6 451.7,502.1 486.3,494.7 520.9,485.5 555.4,466.0 590.0,463.7" fill="none" stroke="#3a7fc0" stroke-width="1.6" stroke-linejoin="round"/><polyline points="140.6,552.9 175.2,551.0 209.7,547.0 244.3,535.6 278.9,532.0 313.4,523.8 348.0,519.6 382.6,511.2 417.2,492.2 451.7,487.2 486.3,484.7 520.9,470.6 555.4,438.6 590.0,434.7" fill="none" stroke="#3278b8" stroke-width="1.6" stroke-linejoin="round"/><polyline points="140.6,547.5 175.2,545.0 209.7,536.7 244.3,523.8 278.9,525.2 313.4,516.5 348.0,502.9 382.6,501.9 417.2,483.0 451.7,479.7 486.3,459.0 520.9,457.3 555.4,431.3 590.0,428.8" fill="none" stroke="#3a84c3" stroke-width="1.6" stroke-linejoin="round"/><polyline points="140.6,540.8 175.2,538.8 209.7,532.5 244.3,520.0 278.9,520.6 313.4,509.2 348.0,506.0 382.6,500.8 417.2,464.0 451.7,456.8 486.3,441.5 520.9,429.9 555.4,369.9 590.0,336.0" fill="none" stroke="#2c66a8" stroke-width="1.7" stroke-linejoin="round"/><polyline points="140.6,565.8 175.2,553.0 209.7,541.9 244.3,527.3 278.9,515.4 313.4,498.8 348.0,473.8 382.6,460.2 417.2,439.9 451.7,422.4 486.3,417.5 520.9,368.6 555.4,343.3 590.0,323.0" fill="none" stroke="#285d9f" stroke-width="1.7" stroke-linejoin="round"/><polyline points="140.6,560.6 175.2,542.9 209.7,522.0 244.3,519.6 278.9,512.3 313.4,482.0 348.0,472.7 382.6,464.4 417.2,443.2 451.7,439.9 486.3,431.6 520.9,408.4 555.4,367.8 590.0,346.5" fill="none" stroke="#f5a25c" stroke-width="1.7" stroke-linejoin="round"/><polyline points="140.6,562.7 175.2,530.4 209.7,512.7 244.3,489.8 278.9,459.0 313.4,428.4 348.0,412.9 382.6,381.9 417.2,368.6" fill="none" stroke="#d4561f" stroke-width="1.8" stroke-linejoin="round"/><text x="590.0" y="318.3" font-size="5.3" font-weight="bold" fill="#333" text-anchor="middle">2014 Q4</text><text x="590.0" y="325.3" font-size="5.3" fill="#777" text-anchor="middle">$6,101K</text><text x="590.0" y="355.3" font-size="5.3" font-weight="bold" fill="#333" text-anchor="middle">2015 Q1</text><text x="590.0" y="362.3" font-size="5.3" fill="#777" text-anchor="middle">$5,551K</text><text x="427.5" y="360.3" font-size="5.3" font-weight="bold" fill="#333" text-anchor="middle">2015 Q2</text><text x="427.5" y="367.3" font-size="5.3" fill="#777" text-anchor="middle">$4,978K</text><text x="590.0" y="419.8" font-size="5.3" font-weight="bold" fill="#333" text-anchor="middle">2013 Q4</text><text x="590.0" y="426.8" font-size="5.3" fill="#777" text-anchor="middle">$3,504K</text><text x="590.0" y="442.8" font-size="5.3" font-weight="bold" fill="#333" text-anchor="middle">2014 Q2</text><text x="590.0" y="449.8" font-size="5.3" fill="#777" text-anchor="middle">$3,358K</text><text x="590.0" y="472.8" font-size="5.3" font-weight="bold" fill="#333" text-anchor="middle">2014 Q1</text><text x="590.0" y="479.8" font-size="5.3" fill="#777" text-anchor="middle">$2,644K</text><text x="590.0" y="493.3" font-size="5.3" font-weight="bold" fill="#333" text-anchor="middle">2012 Q4</text><text x="590.0" y="500.3" font-size="5.3" fill="#777" text-anchor="middle">$1,900K</text><text x="590.0" y="508.3" font-size="5.3" font-weight="bold" fill="#333" text-anchor="middle">2013 Q1</text><text x="590.0" y="515.3" font-size="5.3" fill="#777" text-anchor="middle">$1,311K</text><text x="566.5" y="530.8" font-size="5.3" font-weight="bold" fill="#333" text-anchor="middle">2011 Q1</text><text x="566.5" y="537.8" font-size="5.3" fill="#777" text-anchor="middle">$972K</text><rect x="613.3" y="307.8" width="6.4" height="6.4" fill="#f5a25c"/><text x="622.5" y="312.8" font-size="5" fill="#888">2015 Q1</text><rect x="613.3" y="317.4" width="6.4" height="6.4" fill="#1f4f8f"/><text x="622.5" y="322.4" font-size="5" fill="#888">2014 Q4</text><rect x="613.3" y="326.9" width="6.4" height="6.4" fill="#225796"/><text x="622.5" y="331.9" font-size="5" fill="#888">2014 Q3</text><rect x="613.3" y="336.5" width="6.4" height="6.4" fill="#2862a3"/><text x="622.5" y="341.5" font-size="5" fill="#888">2014 Q2</text><rect x="613.3" y="346.1" width="6.4" height="6.4" fill="#2d6dae"/><text x="622.5" y="351.1" font-size="5" fill="#888">2014 Q1</text><rect x="613.3" y="355.7" width="6.4" height="6.4" fill="#3679b8"/><text x="622.5" y="360.7" font-size="5" fill="#888">2013 Q4</text><rect x="613.3" y="365.2" width="6.4" height="6.4" fill="#4187c2"/><text x="622.5" y="370.2" font-size="5" fill="#888">2013 Q3</text><rect x="613.3" y="374.8" width="6.4" height="6.4" fill="#4d95ca"/><text x="622.5" y="379.8" font-size="5" fill="#888">2013 Q2</text><rect x="613.3" y="384.4" width="6.4" height="6.4" fill="#5ba3d2"/><text x="622.5" y="389.4" font-size="5" fill="#888">2013 Q1</text><rect x="613.3" y="393.9" width="6.4" height="6.4" fill="#6cb1da"/><text x="622.5" y="398.9" font-size="5" fill="#888">2012 Q4</text><rect x="613.3" y="403.5" width="6.4" height="6.4" fill="#80bde0"/><text x="622.5" y="408.5" font-size="5" fill="#888">2012 Q3</text><rect x="613.3" y="413.1" width="6.4" height="6.4" fill="#96c9e4"/><text x="622.5" y="418.1" font-size="5" fill="#888">2012 Q2</text><rect x="613.3" y="422.6" width="6.4" height="6.4" fill="#b9d6e2"/><text x="622.5" y="427.6" font-size="5" fill="#888">2012 Q1</text></svg>
<svg width="768" height="1024" viewBox="0 0 768 1024"><rect x="12" y="634" width="745" height="4.6" fill="#2b4661"/><text x="20" y="653.3" font-family="Liberation Serif, serif" font-size="20.5" font-weight="bold" fill="#555" textLength="180" lengthAdjust="spacingAndGlyphs">Income Statement</text><text x="206" y="653" font-size="12.5" font-weight="bold" fill="#555">(In 000s)</text><rect x="21" y="665.5" width="11" height="11" fill="#f7a35c"/><text x="37" y="674.3" font-size="8.5" fill="#666">Net Profit</text><rect x="86" y="665.5" width="11" height="11" fill="#6fb8d9"/><text x="101" y="674.3" font-size="8.5" fill="#666">Net Sales</text><rect x="156" y="665.5" width="11" height="11" fill="#9b4f8c"/><text x="171.5" y="674.3" font-size="8.5" fill="#666">Profit Margin</text><rect x="19.5" y="688.5" width="98" height="176" fill="#fff" stroke="#c8c8c8" stroke-width="1"/><text x="21" y="699.1" font-size="9.6" font-weight="bold" fill="#555">Region</text><rect x="21.5" y="703.5" width="94" height="15.5" fill="#fff" stroke="#bdbdbd" stroke-width="1"/><text x="25" y="714.5" font-size="9" fill="#555">(All)</text><path d="M101 709.5 L106 709.5 L103.5 712.5 Z" fill="#333"/><text x="21" y="739.1" font-size="9.6" font-weight="bold" fill="#555">Channel</text><rect x="21.5" y="744.0" width="94" height="15.5" fill="#fff" stroke="#bdbdbd" stroke-width="1"/><text x="25" y="755.0" font-size="9" fill="#555">(All)</text><path d="M101 750.0 L106 750.0 L103.5 753.0 Z" fill="#333"/><text x="21" y="775.5" font-size="9.6" font-weight="bold" fill="#555">Customer Segment</text><rect x="21.5" y="780.6" width="94" height="15.5" fill="#fff" stroke="#bdbdbd" stroke-width="1"/><text x="25" y="791.6" font-size="9" fill="#555">(All)</text><path d="M101 786.6 L106 786.6 L103.5 789.6 Z" fill="#333"/><text x="21" y="813.5" font-size="9.6" font-weight="bold" fill="#555">Select Product</text><rect x="21.5" y="818.5" width="94" height="15.5" fill="#fff" stroke="#bdbdbd" stroke-width="1"/><text x="25" y="829.5" font-size="9" fill="#555">(All)</text><path d="M101 824.5 L106 824.5 L103.5 827.5 Z" fill="#333"/><line x1="154.4" y1="689" x2="154.4" y2="865" stroke="#d4d4d4" stroke-width="1"/><line x1="154.4" y1="705.3" x2="545" y2="705.3" stroke="#d4d4d4" stroke-width="1"/><line x1="310.2" y1="689" x2="310.2" y2="865" stroke="#d4d4d4" stroke-width="1"/><line x1="466.5" y1="689" x2="466.5" y2="865" stroke="#d4d4d4" stroke-width="1"/><line x1="545.0" y1="689" x2="545.0" y2="865" stroke="#d4d4d4" stroke-width="1"/><line x1="155" y1="811.4" x2="545" y2="811.4" stroke="#f0f0f0" stroke-width="0.8"/><line x1="155" y1="775.0" x2="545" y2="775.0" stroke="#f0f0f0" stroke-width="0.8"/><line x1="155" y1="738.6" x2="545" y2="738.6" stroke="#f0f0f0" stroke-width="0.8"/><line x1="193.5" y1="706" x2="193.5" y2="848" stroke="#f3f3f3" stroke-width="0.8"/><line x1="232.8" y1="706" x2="232.8" y2="848" stroke="#f3f3f3" stroke-width="0.8"/><line x1="272.0" y1="706" x2="272.0" y2="848" stroke="#f3f3f3" stroke-width="0.8"/><line x1="349.5" y1="706" x2="349.5" y2="848" stroke="#f3f3f3" stroke-width="0.8"/><line x1="388.8" y1="706" x2="388.8" y2="848" stroke="#f3f3f3" stroke-width="0.8"/><line x1="428.0" y1="706" x2="428.0" y2="848" stroke="#f3f3f3" stroke-width="0.8"/><line x1="505.6" y1="706" x2="505.6" y2="848" stroke="#f3f3f3" stroke-width="0.8"/><text x="148" y="846.5" font-size="8.5" fill="#666" text-anchor="end">0</text><text x="148" y="814.4" font-size="8.5" fill="#666" text-anchor="end">2,000</text><text x="148" y="778.0" font-size="8.5" fill="#666" text-anchor="end">4,000</text><text x="148" y="741.6" font-size="8.5" fill="#666" text-anchor="end">6,000</text><text x="231" y="700.5" font-size="8.5" font-weight="bold" fill="#444" text-anchor="middle">2010</text><text x="387.3" y="700.5" font-size="8.5" font-weight="bold" fill="#444" text-anchor="middle">2011</text><text x="505.1" y="700.5" font-size="8.5" font-weight="bold" fill="#444" text-anchor="middle">2012</text><rect x="159.1" y="741.8" width="29.4" height="106.0" fill="#6fb8d9"/><rect x="159.1" y="824.3" width="29.4" height="23.5" fill="#f7a35c"/><circle cx="173.8" cy="817.3" r="5.8" fill="#9b4f8c"/><text x="173.8" y="859.3" font-size="9" fill="#555" text-anchor="middle">Q1</text><rect x="197.7" y="747.0" width="29.4" height="100.8" fill="#6fb8d9"/><rect x="197.7" y="826.4" width="29.4" height="21.4" fill="#f7a35c"/><circle cx="212.4" cy="817.8" r="5.8" fill="#9b4f8c"/><text x="212.4" y="859.3" font-size="9" fill="#555" text-anchor="middle">Q2</text><rect x="237.2" y="713.1" width="29.4" height="134.7" fill="#6fb8d9"/><rect x="237.2" y="821.2" width="29.4" height="26.6" fill="#f7a35c"/><circle cx="251.9" cy="819.6" r="5.8" fill="#9b4f8c"/><text x="251.9" y="859.3" font-size="9" fill="#555" text-anchor="middle">Q3</text><rect x="276.3" y="711.0" width="29.4" height="136.8" fill="#6fb8d9"/><rect x="276.3" y="817.3" width="29.4" height="30.5" fill="#f7a35c"/><circle cx="291.0" cy="816.0" r="5.8" fill="#9b4f8c"/><text x="291.0" y="859.3" font-size="9" fill="#555" text-anchor="middle">Q4</text><rect x="315.2" y="751.7" width="29.4" height="96.1" fill="#6fb8d9"/><rect x="315.2" y="824.1" width="29.4" height="23.7" fill="#f7a35c"/><circle cx="329.9" cy="813.0" r="5.8" fill="#9b4f8c"/><text x="329.9" y="859.3" font-size="9" fill="#555" text-anchor="middle">Q1</text><rect x="354.8" y="714.8" width="29.4" height="133.0" fill="#6fb8d9"/><rect x="354.8" y="817.0" width="29.4" height="30.8" fill="#f7a35c"/><circle cx="369.5" cy="814.7" r="5.8" fill="#9b4f8c"/><text x="369.5" y="859.3" font-size="9" fill="#555" text-anchor="middle">Q2</text><rect x="393.0" y="718.9" width="29.4" height="128.9" fill="#6fb8d9"/><rect x="393.0" y="819.4" width="29.4" height="28.4" fill="#f7a35c"/><circle cx="407.7" cy="816.3" r="5.8" fill="#9b4f8c"/><text x="407.7" y="859.3" font-size="9" fill="#555" text-anchor="middle">Q3</text><rect x="432.4" y="715.5" width="29.4" height="132.3" fill="#6fb8d9"/><rect x="432.4" y="815.7" width="29.4" height="32.1" fill="#f7a35c"/><circle cx="447.1" cy="812.6" r="5.8" fill="#9b4f8c"/><text x="447.1" y="859.3" font-size="9" fill="#555" text-anchor="middle">Q4</text><rect x="472.0" y="731.4" width="29.4" height="116.4" fill="#6fb8d9"/><rect x="472.0" y="818.0" width="29.4" height="29.8" fill="#f7a35c"/><circle cx="486.7" cy="811.0" r="5.8" fill="#9b4f8c"/><text x="486.7" y="859.3" font-size="9" fill="#555" text-anchor="middle">Q1</text><rect x="510.9" y="765.9" width="29.4" height="81.9" fill="#6fb8d9"/><rect x="510.9" y="826.8" width="29.4" height="21.0" fill="#f7a35c"/><circle cx="525.6" cy="811.3" r="5.8" fill="#9b4f8c"/><text x="525.6" y="859.3" font-size="9" fill="#555" text-anchor="middle">Q2</text><line x1="553.4" y1="705.2" x2="752.3" y2="705.2" stroke="#d4d4d4" stroke-width="1"/><line x1="553.4" y1="847.8" x2="752.3" y2="847.8" stroke="#c4c4c4" stroke-width="1.5"/><line x1="596.4" y1="689" x2="596.4" y2="864" stroke="#e6e6e6" stroke-width="1"/><line x1="634.1" y1="689" x2="634.1" y2="864" stroke="#d4d4d4" stroke-width="1"/><line x1="671.5" y1="689" x2="671.5" y2="864" stroke="#d4d4d4" stroke-width="1"/><line x1="709.8" y1="689" x2="709.8" y2="864" stroke="#d4d4d4" stroke-width="1"/><line x1="597" y1="746.2" x2="709" y2="746.2" stroke="#f0f0f0" stroke-width="0.8"/><line x1="597" y1="797.3" x2="709" y2="797.3" stroke="#f0f0f0" stroke-width="0.8"/><text x="614.2" y="700" font-size="8.5" font-weight="bold" fill="#444" text-anchor="middle">2010</text><text x="652.2" y="700" font-size="8.5" font-weight="bold" fill="#444" text-anchor="middle">2011</text><text x="690.5" y="700" font-size="8.5" font-weight="bold" fill="#444" text-anchor="middle">2012</text><text x="590.5" y="749.3" font-size="8.4" fill="#666" text-anchor="end">20,000</text><text x="590.5" y="800.4" font-size="8.4" fill="#666" text-anchor="end">10,000</text><text x="590.5" y="846.4" font-size="8.4" fill="#666" text-anchor="end">0</text><text x="717" y="713.4" font-size="8.4" fill="#666">100%</text><text x="717" y="779.6" font-size="8.4" fill="#666">50%</text><text x="717" y="846.4" font-size="8.4" fill="#666">0%</text><text transform="translate(748,776.5) rotate(-90)" font-size="8.4" fill="#666" text-anchor="middle">Profit Margin</text><rect x="600.9" y="715.6" width="27.8" height="132.2" fill="#6fb8d9"/><rect x="600.9" y="819.5" width="27.8" height="28.3" fill="#f99a45"/><circle cx="614.8" cy="817.2" r="5.8" fill="#9b4f8c"/><rect x="638.9" y="711.2" width="27.8" height="136.6" fill="#6fb8d9"/><rect x="638.9" y="816.6" width="27.8" height="31.2" fill="#f99a45"/><circle cx="652.8" cy="814.2" r="5.8" fill="#9b4f8c"/><rect x="677.2" y="793.1" width="27.8" height="54.7" fill="#6fb8d9"/><rect x="677.2" y="834.4" width="27.8" height="13.4" fill="#f99a45"/><circle cx="691.1" cy="811.2" r="5.8" fill="#9b4f8c"/><rect x="83.7" y="888.4" width="462" height="16.1" fill="#f5f5f5"/><rect x="569" y="888.4" width="170" height="16.1" fill="#f5f5f5"/><rect x="83.7" y="920.5" width="462" height="16.1" fill="#f5f5f5"/><rect x="569" y="920.5" width="170" height="16.1" fill="#f5f5f5"/><rect x="83.7" y="952.6" width="462" height="16.1" fill="#f5f5f5"/><rect x="569" y="952.6" width="170" height="16.1" fill="#f5f5f5"/><rect x="83.7" y="984.8" width="462" height="16.1" fill="#f5f5f5"/><rect x="569" y="984.8" width="170" height="16.1" fill="#f5f5f5"/><rect x="83.7" y="1016.9" width="462" height="16.1" fill="#f5f5f5"/><rect x="569" y="1016.9" width="170" height="16.1" fill="#f5f5f5"/><text x="24.8" y="883.0" font-size="8.5" font-weight="bold" fill="#4a4a4a">Gross Sales</text><text x="88.7" y="883.0" font-size="8.5" fill="#606060">Gross Sales</text><text x="183.5" y="883.0" font-size="8.4" fill="#646464" text-anchor="end">6,153</text><text x="223.0" y="883.0" font-size="8.4" fill="#646464" text-anchor="end">5,803</text><text x="262.8" y="883.0" font-size="8.4" fill="#646464" text-anchor="end">7,742</text><text x="302.3" y="883.0" font-size="8.4" fill="#646464" text-anchor="end">7,816</text><text x="344.0" y="883.0" font-size="8.4" fill="#646464" text-anchor="end">5,541</text><text x="383.3" y="883.0" font-size="8.4" fill="#646464" text-anchor="end">7,655</text><text x="422.5" y="883.0" font-size="8.4" fill="#646464" text-anchor="end">7,421</text><text x="461.6" y="883.0" font-size="8.4" fill="#646464" text-anchor="end">7,607</text><text x="502.5" y="883.0" font-size="8.4" fill="#646464" text-anchor="end">6,695</text><text x="542.3" y="883.0" font-size="8.4" fill="#646464" text-anchor="end">4,690</text><text x="621.7" y="883.0" font-size="8.4" fill="#646464" text-anchor="end">27,514</text><text x="678.2" y="883.0" font-size="8.4" fill="#646464" text-anchor="end">28,223</text><text x="734.7" y="883.0" font-size="8.4" fill="#646464" text-anchor="end">11,386</text><text x="24.8" y="899.0" font-size="8.5" font-weight="bold" fill="#4a4a4a">Discounts</text><text x="88.7" y="899.0" font-size="8.5" fill="#606060">Discounts</text><text x="183.5" y="899.0" font-size="8.4" fill="#646464" text-anchor="end">310</text><text x="223.0" y="899.0" font-size="8.4" fill="#646464" text-anchor="end">293</text><text x="262.8" y="899.0" font-size="8.4" fill="#646464" text-anchor="end">389</text><text x="302.3" y="899.0" font-size="8.4" fill="#646464" text-anchor="end">394</text><text x="344.0" y="899.0" font-size="8.4" fill="#646464" text-anchor="end">278</text><text x="383.3" y="899.0" font-size="8.4" fill="#646464" text-anchor="end">393</text><text x="422.5" y="899.0" font-size="8.4" fill="#646464" text-anchor="end">376</text><text x="461.6" y="899.0" font-size="8.4" fill="#646464" text-anchor="end">383</text><text x="502.5" y="899.0" font-size="8.4" fill="#646464" text-anchor="end">337</text><text x="542.3" y="899.0" font-size="8.4" fill="#646464" text-anchor="end">236</text><text x="621.7" y="899.0" font-size="8.4" fill="#646464" text-anchor="end">1,386</text><text x="678.2" y="899.0" font-size="8.4" fill="#646464" text-anchor="end">1,429</text><text x="734.7" y="899.0" font-size="8.4" fill="#646464" text-anchor="end">573</text><text x="24.8" y="915.1" font-size="8.5" font-weight="bold" fill="#4a4a4a">Net Sales</text><text x="88.7" y="915.1" font-size="8.5" fill="#606060">Net Sales</text><text x="183.5" y="915.1" font-size="8.4" fill="#646464" text-anchor="end">5,843</text><text x="223.0" y="915.1" font-size="8.4" fill="#646464" text-anchor="end">5,510</text><text x="262.8" y="915.1" font-size="8.4" fill="#646464" text-anchor="end">7,353</text><text x="302.3" y="915.1" font-size="8.4" fill="#646464" text-anchor="end">7,422</text><text x="344.0" y="915.1" font-size="8.4" fill="#646464" text-anchor="end">5,262</text><text x="383.3" y="915.1" font-size="8.4" fill="#646464" text-anchor="end">7,262</text><text x="422.5" y="915.1" font-size="8.4" fill="#646464" text-anchor="end">7,045</text><text x="461.6" y="915.1" font-size="8.4" fill="#646464" text-anchor="end">7,224</text><text x="502.5" y="915.1" font-size="8.4" fill="#646464" text-anchor="end">6,358</text><text x="542.3" y="915.1" font-size="8.4" fill="#646464" text-anchor="end">4,455</text><text x="621.7" y="915.1" font-size="8.4" fill="#646464" text-anchor="end">26,128</text><text x="678.2" y="915.1" font-size="8.4" fill="#646464" text-anchor="end">26,794</text><text x="734.7" y="915.1" font-size="8.4" fill="#646464" text-anchor="end">10,813</text><text x="24.8" y="931.1" font-size="8.5" font-weight="bold" fill="#4a4a4a">COGS</text><text x="88.7" y="931.1" font-size="8.5" fill="#606060">Materials</text><text x="183.5" y="931.1" font-size="8.4" fill="#646464" text-anchor="end">731</text><text x="223.0" y="931.1" font-size="8.4" fill="#646464" text-anchor="end">686</text><text x="262.8" y="931.1" font-size="8.4" fill="#646464" text-anchor="end">1,000</text><text x="302.3" y="931.1" font-size="8.4" fill="#646464" text-anchor="end">960</text><text x="344.0" y="931.1" font-size="8.4" fill="#646464" text-anchor="end">609</text><text x="383.3" y="931.1" font-size="8.4" fill="#646464" text-anchor="end">905</text><text x="422.5" y="931.1" font-size="8.4" fill="#646464" text-anchor="end">866</text><text x="461.6" y="931.1" font-size="8.4" fill="#646464" text-anchor="end">886</text><text x="502.5" y="931.1" font-size="8.4" fill="#646464" text-anchor="end">754</text><text x="542.3" y="931.1" font-size="8.4" fill="#646464" text-anchor="end">502</text><text x="621.7" y="931.1" font-size="8.4" fill="#646464" text-anchor="end">3,377</text><text x="678.2" y="931.1" font-size="8.4" fill="#646464" text-anchor="end">3,277</text><text x="734.7" y="931.1" font-size="8.4" fill="#646464" text-anchor="end">1,256</text><text x="88.7" y="947.2" font-size="8.5" fill="#606060">Returns</text><text x="183.5" y="947.2" font-size="8.4" fill="#646464" text-anchor="end">747</text><text x="223.0" y="947.2" font-size="8.4" fill="#646464" text-anchor="end">701</text><text x="262.8" y="947.2" font-size="8.4" fill="#646464" text-anchor="end">973</text><text x="302.3" y="947.2" font-size="8.4" fill="#646464" text-anchor="end">817</text><text x="344.0" y="947.2" font-size="8.4" fill="#646464" text-anchor="end">638</text><text x="383.3" y="947.2" font-size="8.4" fill="#646464" text-anchor="end">910</text><text x="422.5" y="947.2" font-size="8.4" fill="#646464" text-anchor="end">911</text><text x="461.6" y="947.2" font-size="8.4" fill="#646464" text-anchor="end">760</text><text x="502.5" y="947.2" font-size="8.4" fill="#646464" text-anchor="end">750</text><text x="542.3" y="947.2" font-size="8.4" fill="#646464" text-anchor="end">605</text><text x="621.7" y="947.2" font-size="8.4" fill="#646464" text-anchor="end">3,236</text><text x="678.2" y="947.2" font-size="8.4" fill="#646464" text-anchor="end">3,239</text><text x="734.7" y="947.2" font-size="8.4" fill="#646464" text-anchor="end">1,356</text><text x="88.7" y="963.2" font-size="8.5" fill="#606060">Labor</text><text x="183.5" y="963.2" font-size="8.4" fill="#646464" text-anchor="end">690</text><text x="223.0" y="963.2" font-size="8.4" fill="#646464" text-anchor="end">662</text><text x="262.8" y="963.2" font-size="8.4" fill="#646464" text-anchor="end">935</text><text x="302.3" y="963.2" font-size="8.4" fill="#646464" text-anchor="end">931</text><text x="344.0" y="963.2" font-size="8.4" fill="#646464" text-anchor="end">607</text><text x="383.3" y="963.2" font-size="8.4" fill="#646464" text-anchor="end">872</text><text x="422.5" y="963.2" font-size="8.4" fill="#646464" text-anchor="end">844</text><text x="461.6" y="963.2" font-size="8.4" fill="#646464" text-anchor="end">837</text><text x="502.5" y="963.2" font-size="8.4" fill="#646464" text-anchor="end">735</text><text x="542.3" y="963.2" font-size="8.4" fill="#646464" text-anchor="end">488</text><text x="621.7" y="963.2" font-size="8.4" fill="#646464" text-anchor="end">3,219</text><text x="678.2" y="963.2" font-size="8.4" fill="#646464" text-anchor="end">3,161</text><text x="734.7" y="963.2" font-size="8.4" fill="#646464" text-anchor="end">1,223</text><text x="88.7" y="979.3" font-size="8.5" fill="#606060">Production</text><text x="183.5" y="979.3" font-size="8.4" fill="#646464" text-anchor="end">705</text><text x="223.0" y="979.3" font-size="8.4" fill="#646464" text-anchor="end">710</text><text x="262.8" y="979.3" font-size="8.4" fill="#646464" text-anchor="end">888</text><text x="302.3" y="979.3" font-size="8.4" fill="#646464" text-anchor="end">926</text><text x="344.0" y="979.3" font-size="8.4" fill="#646464" text-anchor="end">599</text><text x="383.3" y="979.3" font-size="8.4" fill="#646464" text-anchor="end">883</text><text x="422.5" y="979.3" font-size="8.4" fill="#646464" text-anchor="end">852</text><text x="461.6" y="979.3" font-size="8.4" fill="#646464" text-anchor="end">903</text><text x="502.5" y="979.3" font-size="8.4" fill="#646464" text-anchor="end">680</text><text x="542.3" y="979.3" font-size="8.4" fill="#646464" text-anchor="end">449</text><text x="621.7" y="979.3" font-size="8.4" fill="#646464" text-anchor="end">3,230</text><text x="678.2" y="979.3" font-size="8.4" fill="#646464" text-anchor="end">3,237</text><text x="734.7" y="979.3" font-size="8.4" fill="#646464" text-anchor="end">1,129</text><text x="88.7" y="995.4" font-size="8.5" fill="#606060">Shipping</text><text x="183.5" y="995.4" font-size="8.4" fill="#646464" text-anchor="end">730</text><text x="223.0" y="995.4" font-size="8.4" fill="#646464" text-anchor="end">658</text><text x="262.8" y="995.4" font-size="8.4" fill="#646464" text-anchor="end">875</text><text x="302.3" y="995.4" font-size="8.4" fill="#646464" text-anchor="end">862</text><text x="344.0" y="995.4" font-size="8.4" fill="#646464" text-anchor="end">637</text><text x="383.3" y="995.4" font-size="8.4" fill="#646464" text-anchor="end">794</text><text x="422.5" y="995.4" font-size="8.4" fill="#646464" text-anchor="end">824</text><text x="461.6" y="995.4" font-size="8.4" fill="#646464" text-anchor="end">785</text><text x="502.5" y="995.4" font-size="8.4" fill="#646464" text-anchor="end">696</text><text x="542.3" y="995.4" font-size="8.4" fill="#646464" text-anchor="end">504</text><text x="621.7" y="995.4" font-size="8.4" fill="#646464" text-anchor="end">3,125</text><text x="678.2" y="995.4" font-size="8.4" fill="#646464" text-anchor="end">3,039</text><text x="734.7" y="995.4" font-size="8.4" fill="#646464" text-anchor="end">1,200</text><text x="24.8" y="1011.4" font-size="8.5" font-weight="bold" fill="#4a4a4a">Gross Profit</text><text x="88.7" y="1011.4" font-size="8.5" fill="#606060">Gross Profit</text><text x="183.5" y="1011.4" font-size="8.4" fill="#646464" text-anchor="end">2,239</text><text x="223.0" y="1011.4" font-size="8.4" fill="#646464" text-anchor="end">2,094</text><text x="262.8" y="1011.4" font-size="8.4" fill="#646464" text-anchor="end">2,682</text><text x="302.3" y="1011.4" font-size="8.4" fill="#646464" text-anchor="end">2,924</text><text x="344.0" y="1011.4" font-size="8.4" fill="#646464" text-anchor="end">2,172</text><text x="383.3" y="1011.4" font-size="8.4" fill="#646464" text-anchor="end">2,898</text><text x="422.5" y="1011.4" font-size="8.4" fill="#646464" text-anchor="end">2,740</text><text x="461.6" y="1011.4" font-size="8.4" fill="#646464" text-anchor="end">3,022</text><text x="502.5" y="1011.4" font-size="8.4" fill="#646464" text-anchor="end">2,743</text><text x="542.3" y="1011.4" font-size="8.4" fill="#646464" text-anchor="end">1,906</text><text x="621.7" y="1011.4" font-size="8.4" fill="#646464" text-anchor="end">9,940</text><text x="678.2" y="1011.4" font-size="8.4" fill="#646464" text-anchor="end">10,841</text><text x="734.7" y="1011.4" font-size="8.4" fill="#646464" text-anchor="end">4,649</text><text x="24.8" y="1027.5" font-size="8.5" font-weight="bold" fill="#4a4a4a">Operating</text><text x="88.7" y="1027.5" font-size="8.5" fill="#606060">Salaries</text><text x="183.5" y="1027.5" font-size="8.4" fill="#646464" text-anchor="end">224</text><text x="223.0" y="1027.5" font-size="8.4" fill="#646464" text-anchor="end">229</text><text x="262.8" y="1027.5" font-size="8.4" fill="#646464" text-anchor="end">284</text><text x="302.3" y="1027.5" font-size="8.4" fill="#646464" text-anchor="end">297</text><text x="344.0" y="1027.5" font-size="8.4" fill="#646464" text-anchor="end">219</text><text x="383.3" y="1027.5" font-size="8.4" fill="#646464" text-anchor="end">290</text><text x="422.5" y="1027.5" font-size="8.4" fill="#646464" text-anchor="end">282</text><text x="461.6" y="1027.5" font-size="8.4" fill="#646464" text-anchor="end">299</text><text x="502.5" y="1027.5" font-size="8.4" fill="#646464" text-anchor="end">254</text><text x="542.3" y="1027.5" font-size="8.4" fill="#646464" text-anchor="end">179</text><text x="621.7" y="1027.5" font-size="8.4" fill="#646464" text-anchor="end">1,045</text><text x="678.2" y="1027.5" font-size="8.4" fill="#646464" text-anchor="end">1,072</text><text x="734.7" y="1027.5" font-size="8.4" fill="#646464" text-anchor="end">433</text><line x1="19.4" y1="872.4" x2="546" y2="872.4" stroke="#dcdcdc" stroke-width="1"/><line x1="569" y1="872.4" x2="739" y2="872.4" stroke="#dcdcdc" stroke-width="1"/><line x1="19.4" y1="888.4" x2="546" y2="888.4" stroke="#dcdcdc" stroke-width="1"/><line x1="569" y1="888.4" x2="739" y2="888.4" stroke="#dcdcdc" stroke-width="1"/><line x1="19.4" y1="904.5" x2="546" y2="904.5" stroke="#dcdcdc" stroke-width="1"/><line x1="569" y1="904.5" x2="739" y2="904.5" stroke="#dcdcdc" stroke-width="1"/><line x1="19.4" y1="920.5" x2="546" y2="920.5" stroke="#dcdcdc" stroke-width="1"/><line x1="569" y1="920.5" x2="739" y2="920.5" stroke="#dcdcdc" stroke-width="1"/><line x1="19.4" y1="1000.8" x2="546" y2="1000.8" stroke="#dcdcdc" stroke-width="1"/><line x1="569" y1="1000.8" x2="739" y2="1000.8" stroke="#dcdcdc" stroke-width="1"/><line x1="19.4" y1="1016.9" x2="546" y2="1016.9" stroke="#dcdcdc" stroke-width="1"/><line x1="569" y1="1016.9" x2="739" y2="1016.9" stroke="#dcdcdc" stroke-width="1"/><line x1="147.8" y1="872" x2="147.8" y2="1024" stroke="#e2e2e2" stroke-width="1"/><line x1="306.5" y1="872" x2="306.5" y2="1024" stroke="#e2e2e2" stroke-width="1"/><line x1="466.5" y1="872" x2="466.5" y2="1024" stroke="#e2e2e2" stroke-width="1"/><rect x="546" y="873" width="5" height="151" fill="#e4e4e4"/><rect x="739" y="873" width="4.5" height="151" fill="#e4e4e4"/></svg>
</body></html>
